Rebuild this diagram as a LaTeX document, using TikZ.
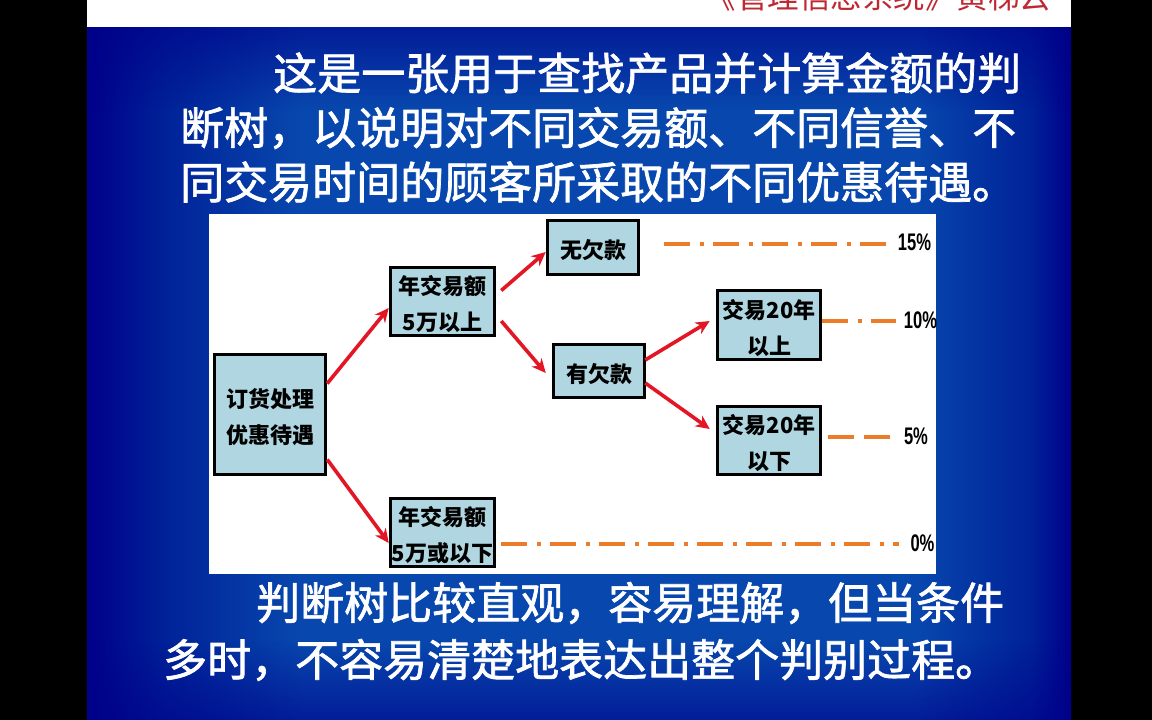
\documentclass[tikz,border=0pt]{standalone}
\usepackage{fontspec}
\newfontfamily\cjkfont{Noto Sans CJK SC}
\newfontfamily\titlefont[FakeBold=1.6]{Noto Sans CJK SC}
\newfontfamily\ratefont[FakeStretch=0.69]{Liberation Sans}
\usetikzlibrary{arrows.meta,fadings}
\definecolor{slidemid}{RGB}{8,72,174}
\definecolor{slideside}{RGB}{0,34,152}
\definecolor{slidedark}{RGB}{0,0,138}
\definecolor{boxblue}{RGB}{176,215,225}
\definecolor{treered}{RGB}{226,22,36}
\definecolor{dashorange}{RGB}{234,124,42}
\definecolor{headred}{RGB}{190,40,50}
\pgfdeclarehorizontalshading{slideband}{100bp}{color(0bp)=(slidedark); color(25bp)=(slidedark); color(29bp)=(slideside); color(36bp)=(slidemid); color(67bp)=(slidemid); color(73bp)=(slideside); color(75bp)=(slidedark); color(100bp)=(slidedark)}
\newcommand{\toprule}{\rule{0pt}{25pt}}
\tikzset{
  slidetext/.style={anchor=west, inner sep=0pt, text=white, font=\titlefont\fontsize{44}{44}\selectfont},
  treebox/.style={draw=black, line width=3.5pt, fill=boxblue, inner sep=0pt, align=center, font=\cjkfont\bfseries\fontsize{22}{36}\selectfont},
  rate/.style={inner sep=0pt, font=\ratefont\bfseries\fontsize{24}{24}\selectfont},
  flow/.style={draw=treered, line width=3.6pt, -{Stealth[length=14pt,width=13pt]}},
  dashline/.style={draw=dashorange, line width=3.6pt, dash pattern=on 26pt off 10pt on 4pt off 9pt},
  gapline/.style={draw=dashorange, line width=3.6pt, dash pattern=on 26pt off 10pt}
}
\begin{document}
\begin{tikzpicture}[x=1pt,y=-1pt]
\useasboundingbox (0,0) rectangle (1152,720);
\fill[black] (0,0) rectangle (1152,720);
\fill[white] (87,0) rectangle (1071,27);
\shade[shading=slideband] (87,27) rectangle (1071,720);
\fill[slidedark, opacity=0.6, path fading=south] (87,27) rectangle (1071,110);
\fill[slidedark, opacity=0.6, path fading=north] (87,640) rectangle (1071,720);
\node[name=header, inner sep=0pt, text=headred, font=\cjkfont\fontsize{31.5}{32}\selectfont] at (878,-4) {《管理信息系统》黄梯云};
\foreach \lname/\lx/\ly/\ltext in {intro1/273/73/这是一张用于查找产品并计算金额的判, intro2/180/128/断树，以说明对不同交易额、不同信誉、不, intro3/180/182/同交易时间的顾客所采取的不同优惠待遇。, outro1/256/603/判断树比较直观，容易理解，但当条件, outro2/163/660/多时，不容易清楚地表达出整个判别过程。}
\node[name=\lname, slidetext] at (\lx,\ly) {\ltext};
\fill[white] (209,214) rectangle (936,574);
\node[name=root, treebox, minimum width=111pt, minimum height=120pt] at (270,414.5) {\toprule 订货处理\\优惠待遇};
\node[name=above5, treebox, minimum width=104pt, minimum height=68pt] at (442.5,301.5) {\toprule 年交易额\\5万以上};
\node[name=below5, treebox, minimum width=104pt, minimum height=68pt] at (442.5,532.5) {\toprule 年交易额\\5万或以下};
\node[name=nodebt, treebox, minimum width=91pt, minimum height=54pt] at (593,247.5) {\toprule 无欠款};
\node[name=debt, treebox, minimum width=91pt, minimum height=53pt] at (599,371) {\toprule 有欠款};
\node[name=over20, treebox, minimum width=103pt, minimum height=69pt] at (769,325) {\toprule 交易20年\\以上};
\node[name=under20, treebox, minimum width=103pt, minimum height=68pt] at (769,440.5) {\toprule 交易20年\\以下};
\foreach \rname/\rx/\ry/\rtext in {r15/914.5/242/15\%, r10/920.5/320/10\%, r5/916/436/5\%, r0/922.5/543/0\%}
\node[name=\rname, rate] at (\rx,\ry) {\rtext};
\foreach \from/\to/\sx/\sy/\ex/\ey in {root/above5/0/31/0/-6.5, root/below5/0/-45/0/-10.5, above5/nodebt/5/11/0/-4.5, above5/debt/5/-19.5/-6/-2, debt/over20/-1/11/-6/4, debt/under20/-1/-12/-6/11.5}
\draw[flow] ([xshift=\sx pt, yshift=\sy pt]\from.east) -- ([xshift=\ex pt, yshift=\ey pt]\to.west);
\draw[dashline] ([xshift=24pt, yshift=3.5pt]nodebt.east) -- ([xshift=-10pt, yshift=-2pt]r15.west);
\draw[dashline] ([yshift=4pt]over20.east) -- ([xshift=-8pt, yshift=-1pt]r10.west);
\draw[gapline] ([xshift=6pt, yshift=3.5pt]under20.east) -- ([xshift=-14pt, yshift=-1pt]r5.west);
\draw[dashline] ([xshift=5pt, yshift=-11.5pt]below5.east) -- ([xshift=-11pt, yshift=-1pt]r0.west);
\end{tikzpicture}
\end{document}
